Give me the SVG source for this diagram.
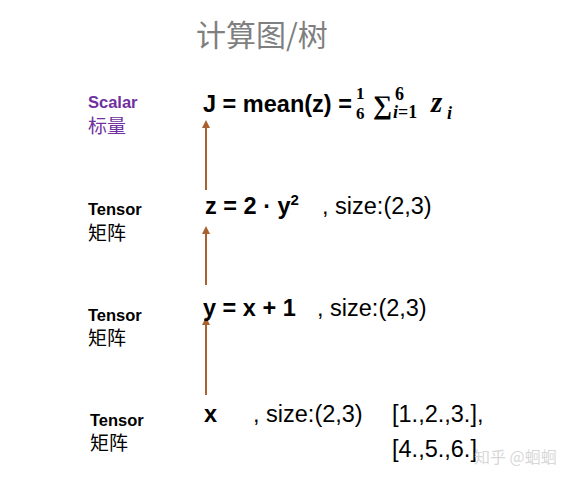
<svg xmlns="http://www.w3.org/2000/svg" width="580" height="482" viewBox="0 0 580 482">
<defs>
<marker id="ah" markerWidth="8" markerHeight="8" refX="4" refY="4" orient="auto" markerUnits="userSpaceOnUse"><path d="M0,0 L8,4 L0,8 Z" fill="#A8612F"/></marker>
<style>
.lab{font-family:"Liberation Sans",Arial,sans-serif;font-weight:bold;font-size:16.5px;fill:#000}
.cn{font-family:"Noto Sans CJK SC","Noto Sans",sans-serif;font-size:19px;fill:#000}
.eq{font-family:"Liberation Sans",Arial,sans-serif;font-weight:bold;font-size:23.5px;fill:#000}
.rg{font-family:"Liberation Sans",Arial,sans-serif;font-size:23.5px;fill:#000}
.m{font-family:"Liberation Serif","Times New Roman",serif;font-weight:bold;fill:#000}
.edge{stroke:#A8612F;stroke-width:2;fill:none}
</style>
</defs>
<rect width="580" height="482" fill="#fff"/>
<text x="196" y="46" style="font-family:'Noto Sans CJK SC','Noto Sans',sans-serif;font-size:30px;fill:#7F7F7F">计算图/树</text>
<g id="connectors">
<line class="edge" x1="206" y1="190" x2="206" y2="124" marker-end="url(#ah)"/>
<line class="edge" x1="206" y1="285" x2="206" y2="230" marker-end="url(#ah)"/>
<line class="edge" x1="206" y1="395" x2="206" y2="321" marker-end="url(#ah)"/>
</g>
<g id="J">
<text class="lab" x="88" y="108" style="fill:#7030A0">Scalar</text>
<text class="cn" x="88" y="133" style="fill:#7030A0">标量</text>
<text class="eq" x="203" y="112">J = mean(z) =</text>
<text class="m" x="356" y="99" font-size="17">1</text>
<text class="m" x="356" y="119" font-size="17">6</text>
<text class="m" x="373" y="114" font-size="27">∑</text>
<text class="m" x="395" y="100" font-size="18">6</text>
<text class="m" x="393" y="118" font-size="18"><tspan font-style="italic">i</tspan>=1</text>
<text class="m" x="431" y="112" font-size="29" font-style="italic">z</text>
<text class="m" x="447" y="119" font-size="18" font-style="italic">i</text>
</g>
<g id="z">
<text class="lab" x="88" y="215">Tensor</text>
<text class="cn" x="88" y="240">矩阵</text>
<text class="eq" x="205" y="214">z = 2 · y<tspan font-size="15" dy="-9">2</tspan></text>
<text class="rg" x="322" y="214">, size:(2,3)</text>
</g>
<g id="y">
<text class="lab" x="88" y="321">Tensor</text>
<text class="cn" x="88" y="345">矩阵</text>
<text class="eq" x="203" y="316">y = x + 1</text>
<text class="rg" x="317" y="316">, size:(2,3)</text>
</g>
<g id="x">
<text class="lab" x="90" y="426">Tensor</text>
<text class="cn" x="90" y="450">矩阵</text>
<text class="eq" x="204" y="422">x</text>
<text class="rg" x="253" y="422">, size:(2,3)</text>
<text class="rg" x="392" y="422">[1.,2.,3.],</text>
<text class="rg" x="392" y="457">[4.,5.,6.]</text>
</g>
<text x="474" y="463" style="font-family:'Noto Sans CJK SC','Noto Sans',sans-serif;font-size:16px;fill:#D0D0D0;fill-opacity:0.85">知乎 @蛔蛔</text>
</svg>
